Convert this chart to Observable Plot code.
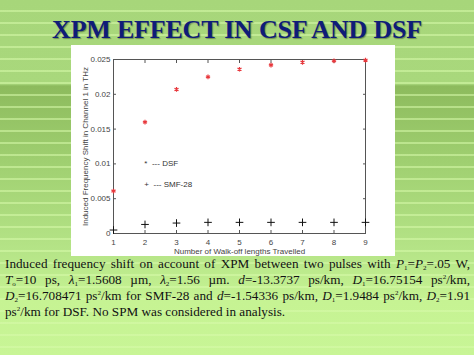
<!DOCTYPE html>
<html>
<head>
<meta charset="utf-8">
<script src="https://cdn.jsdelivr.net/npm/d3@7"></script>
<script src="https://cdn.jsdelivr.net/npm/@observablehq/plot@0.6"></script>
<style>
  html, body { margin: 0; padding: 0; }
  body {
    width: 474px; height: 355px; overflow: hidden; position: relative;
    background:
      repeating-linear-gradient(180deg, rgba(0,0,0,0) 0px, rgba(0,0,0,0) 10px, rgba(215,250,170,0.55) 10px, rgba(215,250,170,0.55) 12px),
      linear-gradient(180deg, #a7d67a 0px, #a9d87c 84px, #8dbb5d 86px, #9fcf70 160px, #b5e487 250px, #c6f393 300px, #c8f596 355px);
  }
  #title {
    position: absolute; left: 0; top: 15px; width: 474px; text-align: center;
    font-family: "Liberation Serif", "Times New Roman", serif; font-weight: bold;
    font-size: 26px; color: #0f1c78; letter-spacing: -0.2px;
    text-shadow: 1px 1px 1px rgba(0,0,0,0.35);
  }
  #chart { position: absolute; left: 71px; top: 45px; width: 324px; height: 211px; background: white; }
  #caption {
    position: absolute; left: 5px; top: 256px; width: 465px;
    font-family: "Liberation Serif", "Times New Roman", serif; font-size: 13.2px;
    color: #111;
  }
  #caption .ln { height: 16px; line-height: 16px; white-space: nowrap; text-align: justify; text-align-last: justify; }
  #caption .ln.last { text-align: left; text-align-last: left; }
  #caption sub, #caption sup { font-size: 7px; line-height: 0; vertical-align: baseline; position: relative; }
  #caption sub { top: 2px; }
  #caption sup { top: -5px; }
</style>
</head>
<body>
<div id="title">XPM EFFECT IN CSF AND DSF</div>
<div id="chart"></div>
<div id="caption">
  <div class="ln">Induced frequency shift on account of XPM between two pulses with <i>P</i><sub>1</sub>=<i>P</i><sub>2</sub>=.05 W,</div>
  <div class="ln"><i>T</i><sub>o</sub>=10 ps, <i>λ</i><sub>1</sub>=1.5608 µm, <i>λ</i><sub>2</sub>=1.56 µm. <i>d</i>=-13.3737 ps/km, <i>D</i><sub>1</sub>=16.75154 ps<sup>2</sup>/km,</div>
  <div class="ln"><i>D</i><sub>2</sub>=16.708471 ps<sup>2</sup>/km for SMF-28 and <i>d</i>=-1.54336 ps/km, <i>D</i><sub>1</sub>=1.9484 ps<sup>2</sup>/km, <i>D</i><sub>2</sub>=1.91</div>
  <div class="ln last">ps<sup>2</sup>/km for DSF. No SPM was considered in analysis.</div>
</div>
<script>
// Data
const walkoffs = [1, 2, 3, 4, 5, 6, 7, 8, 9];
const dsfShift = [0.0061, 0.0160, 0.0207, 0.0225, 0.0236, 0.0242, 0.0246, 0.0248, 0.0249];
const smfShift = [0.0005, 0.0013, 0.0015, 0.0016, 0.0016, 0.0016, 0.0016, 0.0016, 0.0016];
const xTicks = [1, 2, 3, 4, 5, 6, 7, 8, 9];
const yTicks = [0, 0.005, 0.01, 0.015, 0.02, 0.025];
const yTickLabels = ["0", "0.005", "0.01", "0.015", "0.02", "0.025"];
const legendLabels = ["*  --- DSF", "+  --- SMF-28"];
const legendX = [1.98, 1.98];
const legendY = [0.0101, 0.0070];

const dsfRows = walkoffs.map((w, i) => ({w, v: dsfShift[i]}));
const smfRows = walkoffs.map((w, i) => ({w, v: smfShift[i]}));
const legendRows = legendLabels.map((t, i) => ({t, x: legendX[i], y: legendY[i]}));

const chart = Plot.plot({
  width: 324, height: 211,
  marginLeft: 42, marginRight: 30, marginTop: 14, marginBottom: 23,
  style: {fontFamily: "'Liberation Sans', Arial, sans-serif", fontSize: "8px", color: "#444", background: "white"},
  x: {domain: [1, 9]},
  y: {domain: [0, 0.025]},
  marks: [
    Plot.frame({stroke: "#555", strokeWidth: 1}),
    Plot.axisX(xTicks, {anchor: "bottom", tickSize: -3, tickPadding: 9, label: "Number of Walk-off lengths Travelled", labelAnchor: "center", labelArrow: "none", labelOffset: 20, stroke: "#555"}),
    Plot.axisX(xTicks, {anchor: "top", tickSize: -3, tickFormat: () => "", label: null, stroke: "#555"}),
    Plot.axisY(yTicks, {anchor: "left", tickSize: -3, tickPadding: 6, tickFormat: (d) => yTickLabels[yTicks.indexOf(d)], label: "Induced Frequency Shift in Channel 1 in THz", labelAnchor: "center", labelArrow: "none", labelOffset: 31, stroke: "#555"}),
    Plot.axisY(yTicks, {anchor: "right", tickSize: -3, tickFormat: () => "", label: null, stroke: "#555"}),
    Plot.dot(dsfRows, {x: "w", y: "v", symbol: "asterisk", r: 2.2, stroke: "#e8383d", strokeWidth: 1.2}),
    Plot.dot(smfRows, {x: "w", y: "v", symbol: "plus", r: 2.6, stroke: "#111", strokeWidth: 1}),
    Plot.text(legendRows, {x: "x", y: "y", text: "t", textAnchor: "start", fill: "#333", fontSize: 8})
  ]
});
document.getElementById("chart").appendChild(chart);
</script>
</body>
</html>
